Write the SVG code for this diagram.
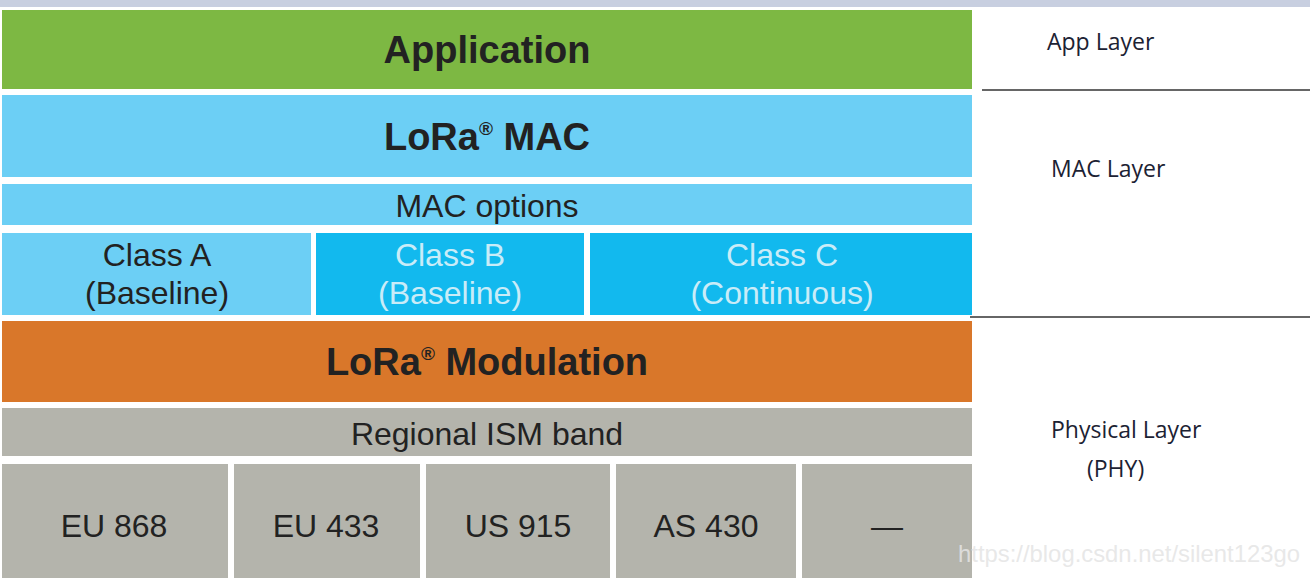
<svg xmlns="http://www.w3.org/2000/svg" width="1310" height="578" viewBox="0 0 1310 578">
<style>
.t{font-family:"Liberation Sans",Arial,sans-serif;fill:#222;text-anchor:middle;font-size:32px}
.b{font-weight:bold;font-size:38px}
.lt{fill:#c9ecf8}
.side{font-family:"Open Sans","Noto Sans",sans-serif;font-size:23px;fill:#1c2233}
.ln{stroke:#333;stroke-width:1.5}
</style>
<rect x="0" y="0" width="1310" height="578" fill="#fff"/>
<rect x="0" y="0" width="1310" height="7" fill="#c8cfe0"/>
<g id="application">
<rect x="2" y="10" width="970" height="79" fill="#7db843"/>
<text class="t b" x="487" y="63">Application</text>
</g>
<g id="lora-mac">
<rect x="2" y="95" width="970" height="82" fill="#6ccff5"/>
<text class="t b" x="487" y="150">LoRa<tspan font-size="19" dy="-15">®</tspan><tspan dy="15"> MAC</tspan></text>
</g>
<g id="mac-options">
<rect x="2" y="184" width="970" height="41" fill="#6ccff5"/>
<text class="t" x="487" y="217">MAC options</text>
</g>
<g id="class-a">
<rect x="2" y="233" width="309" height="82" fill="#6ccff5"/>
<text class="t" x="157" y="266">Class A</text>
<text class="t" x="157" y="304">(Baseline)</text>
</g>
<g id="class-b">
<rect x="316" y="233" width="268" height="82" fill="#12b9ee"/>
<text class="t lt" x="450" y="266">Class B</text>
<text class="t lt" x="450" y="304">(Baseline)</text>
</g>
<g id="class-c">
<rect x="590" y="233" width="382" height="82" fill="#12b9ee"/>
<text class="t lt" x="782" y="266">Class C</text>
<text class="t lt" x="782" y="304">(Continuous)</text>
</g>
<g id="lora-modulation">
<rect x="2" y="321" width="970" height="81" fill="#d9772a"/>
<text class="t b" x="487" y="375">LoRa<tspan font-size="19" dy="-15">®</tspan><tspan dy="15"> Modulation</tspan></text>
</g>
<g id="regional-ism">
<rect x="2" y="408" width="970" height="48" fill="#b4b4ac"/>
<text class="t" x="487" y="445">Regional ISM band</text>
</g>
<g id="eu868">
<rect x="2" y="464" width="226" height="114" fill="#b4b4ac"/>
<text class="t" x="114" y="537">EU 868</text>
</g>
<g id="eu433">
<rect x="234" y="464" width="186" height="114" fill="#b4b4ac"/>
<text class="t" x="326" y="537">EU 433</text>
</g>
<g id="us915">
<rect x="426" y="464" width="184" height="114" fill="#b4b4ac"/>
<text class="t" x="518" y="537">US 915</text>
</g>
<g id="as430">
<rect x="616" y="464" width="180" height="114" fill="#b4b4ac"/>
<text class="t" x="706" y="537">AS 430</text>
</g>
<g id="more">
<rect x="802" y="464" width="170" height="114" fill="#b4b4ac"/>
<text class="t" x="887" y="537">—</text>
</g>
<g id="connectors">
<line class="ln" x1="982" y1="90" x2="1310" y2="90"/>
<line class="ln" x1="970" y1="317" x2="1310" y2="317"/>
</g>
<g id="layer-labels">
<text class="side" x="1047" y="50">App Layer</text>
<text class="side" x="1051" y="177">MAC Layer</text>
<text class="side" x="1051" y="438">Physical Layer</text>
<text class="side" x="1087" y="477">(PHY)</text>
</g>
<text x="958" y="562" font-family="Liberation Sans,Arial,sans-serif" font-size="24" textLength="342" lengthAdjust="spacingAndGlyphs" fill="#e4e4e4" fill-opacity="0.85">https://blog.csdn.net/silent123go</text>
</svg>
